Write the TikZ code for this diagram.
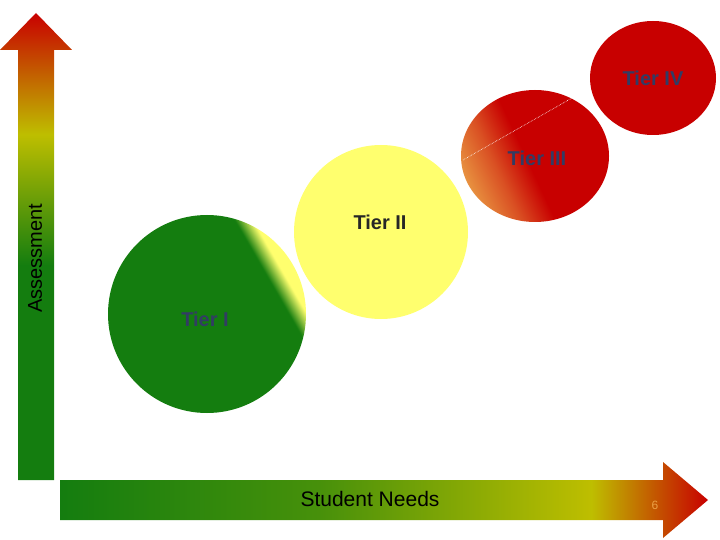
\documentclass[tikz,border=0pt]{standalone}
\usepackage{fontspec}
\setmainfont{Liberation Sans}
\definecolor{gr}{RGB}{20,125,15}
\definecolor{yl}{RGB}{190,190,0}
\definecolor{rd}{RGB}{200,0,0}
\definecolor{ylt}{RGB}{255,255,110}
\definecolor{txt}{RGB}{50,60,100}
\definecolor{org}{RGB}{235,160,70}
\pgfdeclareverticalshading{vArrow}{100bp}{color(0bp)=(gr);color(48bp)=(gr);color(62bp)=(yl);color(75bp)=(rd);color(100bp)=(rd)}
\pgfdeclarehorizontalshading{hArrow}{100bp}{color(0bp)=(gr);color(25bp)=(gr);color(45bp)=(gr!70!yl);color(66bp)=(yl);color(75bp)=(rd);color(100bp)=(rd)}
\pgfdeclarehorizontalshading{tierI}{100bp}{color(0bp)=(gr);color(68bp)=(gr);color(72bp)=(ylt);color(100bp)=(ylt)}
\pgfdeclarehorizontalshading{tierIII}{100bp}{color(0bp)=(org);color(22bp)=(org);color(36bp)=(org!50!rd);color(47bp)=(rd);color(100bp)=(rd)}
\tikzset{tierlbl/.style={font=\bfseries\fontsize{20}{24}\selectfont,text=txt}}
\begin{document}
\begin{tikzpicture}[x=1pt,y=-1pt]
\useasboundingbox (0,0) rectangle (720,540);
\shade[shading=vArrow] (18,480) -- (18,50) -- (0,50) -- (36,13) -- (72,50) -- (54,50) -- (54,480) -- cycle;
\shade[shading=hArrow] (60,480) -- (663,480) -- (663,462) -- (708,500) -- (663,538) -- (663,520) -- (60,520) -- cycle;
\node[rotate=90,font=\fontsize{20}{24}\selectfont] (ass) at (35,258) {Assessment};
\node[font=\fontsize{21}{24}\selectfont] (sn) at (370,499) {Student Needs};
\node[font=\fontsize{12}{14}\selectfont,text=org] (pg) at (655,505) {6};
\shade[shading=tierI,shading angle=30] (207,314) circle[radius=99];
\fill[ylt] (381,232) circle[radius=87];
\shade[shading=tierIII,shading angle=25] (535,156) ellipse[x radius=74,y radius=66];
\fill[rd] (653,78) ellipse[x radius=63,y radius=57];
\draw[white,densely dotted,line width=0.6pt] (463,160) -- (572,98);
\node[tierlbl] (t1) at (205,319) {Tier I};
\node[tierlbl,text=black!85] (t2) at (380,222) {Tier II};
\node[tierlbl] (t3) at (537,158) {Tier III};
\node[tierlbl] (t4) at (653,78) {Tier IV};
\end{tikzpicture}
\end{document}
